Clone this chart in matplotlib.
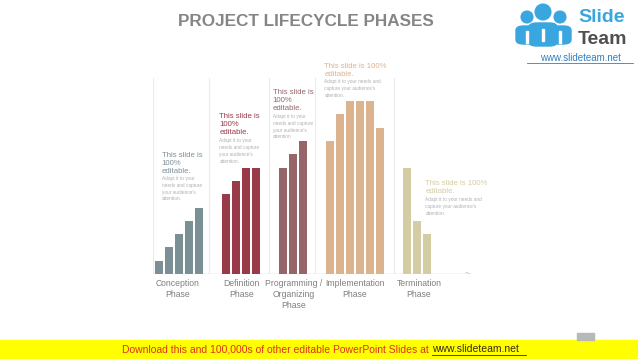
import numpy as np
import matplotlib
matplotlib.use("Agg")
import matplotlib.pyplot as plt
from matplotlib.patches import Ellipse, FancyBboxPatch, Rectangle

plt.rcParams['font.family'] = ['Liberation Sans', 'DejaVu Sans']

# data
phases = ["Conception\nPhase", "Definition\nPhase", "Programming /\nOrganizing\nPhase",
          "Implementation\nPhase", "Termination\nPhase"]
conception = [1, 2, 3, 4, 5]
definition = [6, 7, 8, 8]
programming = [8, 9, 10]
implementation = [10, 12, 13, 13, 13, 11]
termination = [8, 4, 3]
series = [conception, definition, programming, implementation, termination]
colors = ["#7b9095", "#983a48", "#95656a", "#dcb38f", "#d4cca3"]

W, H = 638, 359
fig = plt.figure(figsize=(W / 100, H / 100), dpi=100)


def fx(px):
    return px / W


def fy(py):
    return 1 - py / H


# chart axes: x in bar slots (10 px each), y in value units
ax_l, ax_r, ax_b, ax_t = 153, 475, 274, 78
ax = fig.add_axes([fx(ax_l), fy(ax_b), fx(ax_r - ax_l), (ax_b - ax_t) / H])
ax.set_xlim(0, (ax_r - ax_l) / 10)
ax.set_ylim(0, (ax_b - ax_t) / 13.3)
ax.axis("off")

group_start = [0.6, 7.27, 13.0, 17.7, 25.37]
for vals, start, c in zip(series, group_start, colors):
    xs = start + np.arange(len(vals))
    ax.bar(xs, vals, width=0.78, color=c, zorder=3)

# separators and baseline
for sx in [0, 5.6, 11.57, 16.25, 24.1]:
    ax.plot([sx, sx], [0, 14.7], color="#ebebeb", lw=0.8, zorder=1)
ax.plot([0, 31.7], [0, 0], color="#d0d0d0", lw=1.0, zorder=2)
ax.plot([31.3, 31.7, 31.3], [0.12, 0, -0.12], color="#d0d0d0", lw=0.8)

# category labels
label_x = [178, 241.7, 294, 355, 419]
for lx, lab in zip(label_x, phases):
    fig.text(fx(lx), fy(279.5), lab, ha="center", va="top", fontsize=6.2,
             color="#7f7f7f", linespacing=1.25)

# annotations
small = "#b0b0b0"
notes = [
    (161.7, 151.5, "This slide is\n100%\neditable.", 176.0,
     "Adapt it to your\nneeds and capture\nyour audience's\nattention."),
    (219.3, 113.0, "This slide is\n100%\neditable.", 138.5,
     "Adapt it to your\nneeds and capture\nyour audience's\nattention."),
    (272.7, 88.5, "This slide is\n100%\neditable.", 114.0,
     "Adapt it to your\nneeds and capture\nyour audience's\nattention"),
    (324.3, 63.0, "This slide is 100%\neditable.", 79.0,
     "Adapt it to your needs and\ncapture your audience's\nattention."),
    (425.3, 180.0, "This slide is 100%\neditable.", 197.0,
     "Adapt it to your needs and\ncapture your audience's\nattention."),
]
for (x0, y0, head, y1, body), c in zip(notes, colors):
    fig.text(fx(x0), fy(y0), head, ha="left", va="top", fontsize=5.6,
             color=c, linespacing=1.2)
    fig.text(fx(x0), fy(y1), body, ha="left", va="top", fontsize=3.4,
             color=small, linespacing=1.45)

# title
fig.text(fx(305.5), fy(22), "PROJECT LIFECYCLE PHASES", ha="center", va="center",
         fontsize=12.3, fontweight="bold", color="#858585")

# logo
blue = "#3aa6df"
for bx, by, bw, bh in [(516, 26, 22, 18), (549, 26, 22, 18), (529, 23, 28, 23)]:
    fig.patches.append(FancyBboxPatch((fx(bx), fy(by + bh)), bw / W, bh / H,
                                      boxstyle="round,pad=0,rounding_size=0.012",
                                      transform=fig.transFigure, color=blue, zorder=5))
for cx, cy, r in [(527, 17, 7), (560, 17, 7), (543, 12, 9)]:
    fig.patches.append(Ellipse((fx(cx), fy(cy)), 2 * r / W, 2 * r / H,
                               transform=fig.transFigure, color=blue, zorder=6,
                               ec="white", lw=0.6))
for tx, ty in [(527, 31), (560, 31), (543, 29)]:
    fig.patches.append(Rectangle((fx(tx - 1), fy(ty + 12)), 2 / W, 12 / H,
                                 transform=fig.transFigure, color="white", zorder=7))
fig.text(fx(578), fy(17), "Slide", ha="left", va="center", fontsize=14,
         fontweight="bold", color=blue)
fig.text(fx(578), fy(39), "Team", ha="left", va="center", fontsize=14,
         fontweight="bold", color="#505050")
fig.text(fx(580), fy(58), "www.slideteam.net", ha="center", va="center",
         fontsize=7, color="#2f7fc4")
fig.add_artist(plt.Line2D([fx(527), fx(633)], [fy(63), fy(63)], color="#2f7fc4",
                          lw=0.6, transform=fig.transFigure))

# footer
fig.patches.append(Rectangle((fx(577), fy(340)), 17 / W, 7 / H,
                             transform=fig.transFigure, color="#b8b8b8", zorder=5))
fig.patches.append(Rectangle((0, 0), 1, 19 / H, transform=fig.transFigure,
                             color="#ffff00", zorder=4))
fig.text(fx(432), fy(349.5), "Download this and 100,000s of other editable PowerPoint Slides at ",
         ha="right", va="center", fontsize=7.5, color="#e0301e", zorder=6)
fig.text(fx(432), fy(349.5), "www.slideteam.net", ha="left", va="center",
         fontsize=7.5, color="#3a2a10", zorder=6)
fig.add_artist(plt.Line2D([fx(432), fx(526)], [fy(355), fy(355)], color="#3a2a10",
                          lw=0.6, transform=fig.transFigure, zorder=6))

fig.savefig("out.png", dpi=100)
